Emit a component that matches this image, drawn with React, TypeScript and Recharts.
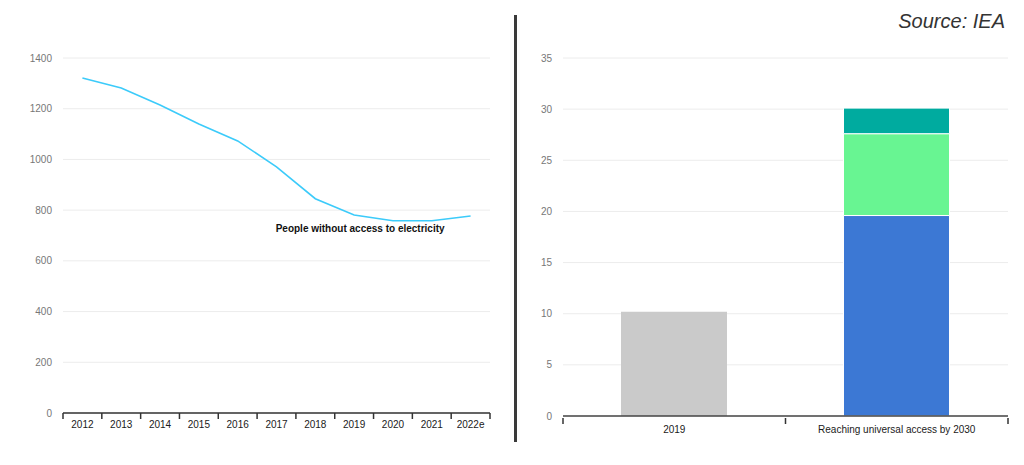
import React from 'react';
import {
  LineChart, Line, BarChart, Bar, XAxis, YAxis, CartesianGrid,
} from 'recharts';

const years = ['2012', '2013', '2014', '2015', '2016', '2017', '2018', '2019', '2020', '2021', '2022e'];
const peopleWithoutAccess = [1321, 1282, 1215, 1140, 1073, 971, 845, 781, 758, 758, 777];
const lineTicks = [0, 200, 400, 600, 800, 1000, 1200, 1400];
const lineLabel = 'People without access to electricity';
const lineLabelIndex = 7;

const barCategories = ['2019', 'Reaching universal access by 2030'];
const investment2019 = [10.2, 0];
const segmentBlue = [0, 19.6];
const segmentGreen = [0, 8.0];
const segmentTeal = [0, 2.5];
const barTicks = [0, 5, 10, 15, 20, 25, 30, 35];

const lineData = years.map((y, i) => ({ year: y, people: peopleWithoutAccess[i] }));
const barData = barCategories.map((c, i) => ({
  cat: c,
  base: investment2019[i],
  blue: segmentBlue[i],
  green: segmentGreen[i],
  teal: segmentTeal[i],
}));

const FONT = 'Arial, "Liberation Sans", sans-serif';

const makeTick = (band: number, count: number) => (props: any) => {
  const { x, y, payload, index } = props;
  const axisY = y - 8;
  return (
    <g>
      <line x1={x - band / 2} y1={axisY} x2={x - band / 2} y2={axisY + 6} stroke="#333" strokeWidth={1.5} />
      {index === count - 1 && (
        <line x1={x + band / 2} y1={axisY} x2={x + band / 2} y2={axisY + 6} stroke="#333" strokeWidth={1.5} />
      )}
      <text x={x} y={y} dy="0.71em" textAnchor="middle" fontSize={10} fill="#1a1a1a" fontFamily={FONT}>
        {payload.value}
      </text>
    </g>
  );
};

const LineLabel = (props: any) => {
  const { x, y, index } = props;
  if (index !== lineLabelIndex) return null;
  return (
    <text x={x + 6} y={y + 17} textAnchor="middle" fontSize={10} fontWeight="bold" fill="#111" fontFamily={FONT}>
      {lineLabel}
    </text>
  );
};

export default function App() {
  const xAxisH = 30;
  const lineW = 510;
  const lineMargin = { top: 58, right: 20, bottom: 52 - xAxisH, left: 0 };
  const lineYW = 63;
  const linePlotW = lineW - lineMargin.left - lineMargin.right - lineYW;

  const barW = 509;
  const barMargin = { top: 58, right: 16, bottom: 49 - xAxisH, left: 0 };
  const barYW = 48;
  const barPlotW = barW - barMargin.left - barMargin.right - barYW;

  return (
    <div style={{ position: 'absolute', left: 0, top: 0, width: 1024, height: 465, background: '#fff', fontFamily: FONT }}>
      <div style={{ position: 'absolute', left: 0, top: 0 }}>
        <LineChart width={lineW} height={465} data={lineData} margin={lineMargin}>
          <CartesianGrid vertical={false} stroke="#ececec" strokeWidth={1} />
          <XAxis
            dataKey="year"
            scale="band"
            height={xAxisH}
            axisLine={{ stroke: '#333', strokeWidth: 1.5 }}
            tickLine={false}
            tickSize={6}
            tickMargin={2}
            interval={0}
            tick={makeTick(linePlotW / years.length, years.length)}
          />
          <YAxis
            width={lineYW}
            domain={[0, 1400]}
            ticks={lineTicks}
            axisLine={false}
            tickLine={false}
            tickSize={6}
            tickMargin={5}
            tick={{ fontSize: 10, fill: '#777', fontFamily: FONT }}
          />
          <Line
            type="linear"
            dataKey="people"
            stroke="#3ccbfa"
            strokeWidth={1.6}
            dot={false}
            isAnimationActive={false}
            label={<LineLabel />}
          />
        </LineChart>
      </div>

      <div style={{ position: 'absolute', left: 514, top: 15, width: 3, height: 427, background: '#3a3a3a' }} />

      <div
        style={{
          position: 'absolute', right: 19, top: 10, fontSize: 20, fontStyle: 'italic',
          color: '#333', fontFamily: FONT, whiteSpace: 'nowrap',
        }}
      >
        Source: IEA
      </div>

      <div style={{ position: 'absolute', left: 515, top: 0 }}>
        <BarChart width={barW} height={465} data={barData} margin={barMargin} barSize={106}>
          <CartesianGrid vertical={false} stroke="#ececec" strokeWidth={1} />
          <XAxis
            dataKey="cat"
            height={xAxisH}
            axisLine={{ stroke: '#444', strokeWidth: 1.5 }}
            tickLine={false}
            tickSize={6}
            tickMargin={4}
            interval={0}
            tick={makeTick(barPlotW / barCategories.length, barCategories.length)}
          />
          <YAxis
            width={barYW}
            domain={[0, 35]}
            ticks={barTicks}
            axisLine={false}
            tickLine={false}
            tickSize={6}
            tickMargin={5}
            tick={{ fontSize: 10, fill: '#777', fontFamily: FONT }}
          />
          <Bar dataKey="base" stackId="a" fill="#cacaca" isAnimationActive={false} />
          <Bar dataKey="blue" stackId="a" fill="#3c78d4" stroke="#fff" strokeWidth={1} isAnimationActive={false} />
          <Bar dataKey="green" stackId="a" fill="#68f592" stroke="#fff" strokeWidth={1} isAnimationActive={false} />
          <Bar dataKey="teal" stackId="a" fill="#00ab9f" stroke="#fff" strokeWidth={1} isAnimationActive={false} />
        </BarChart>
      </div>
    </div>
  );
}
